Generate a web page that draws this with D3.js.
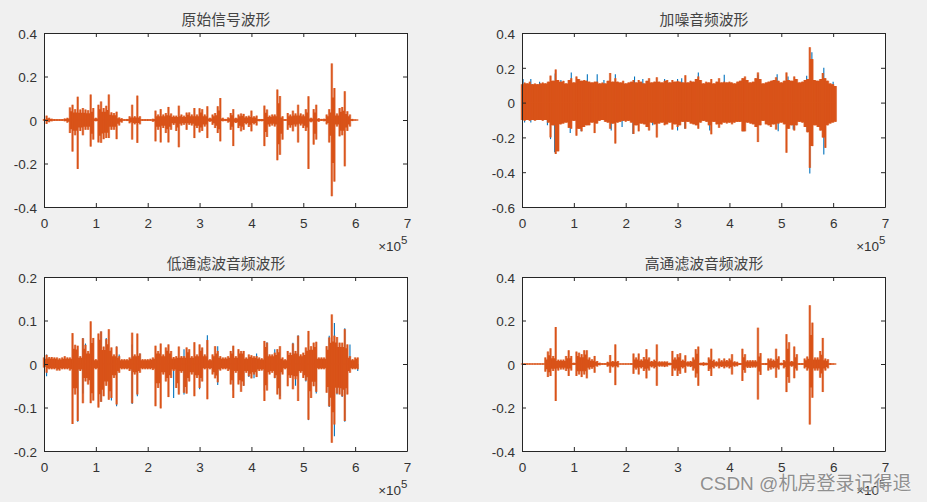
<!DOCTYPE html>
<html>
<head>
<meta charset="utf-8">
<script src="https://cdn.jsdelivr.net/npm/d3@7"></script>
<style>
  html, body { margin: 0; padding: 0; background: #f0f0f0; }
  svg { display: block; }
  .tick text { font: 13.5px "Liberation Sans", Arial, sans-serif; fill: #333; }
  .title { font: 14.8px "Noto Sans CJK SC", sans-serif; fill: #444; text-anchor: middle; }
  .expo { font: 13.5px "Liberation Sans", Arial, sans-serif; fill: #333; text-anchor: end; }
  .mark { font: 19px "Liberation Sans", "Noto Sans CJK SC", sans-serif; fill: #8f8f8f; paint-order: stroke; stroke: rgba(255,255,255,.35); stroke-width: 1.5px; }
</style>
</head>
<body>
<svg id="fig" width="927" height="502"></svg>
<script>
// envelope of each waveform, one value every 5000 samples
const sampleX = d3.range(122).map((i) => i * 5000);

const origTop = [.005,.02,.01,.006,.004,.003,.003,.003,.007,.01,.058,.07,.05,.107,.048,.055,.048,.045,.117,.055,.01,.07,.085,.055,.065,.117,.035,.032,.038,.012,.008,.003,.005,.017,.07,.017,.112,.017,.003,.003,.003,.003,.006,.043,.025,.05,.025,.032,.06,.03,.02,.02,.066,.025,.02,.034,.035,.025,.055,.025,.054,.05,.025,.063,.01,.025,.032,.063,.101,.01,.005,.012,.032,.05,.01,.025,.03,.028,.017,.02,.043,.017,.02,.005,.005,.066,.048,.02,.025,.025,.14,.11,.017,.003,.032,.025,.043,.03,.07,.03,.025,.05,.109,.01,.05,.07,.008,.005,.006,.025,.05,.26,.147,.03,.055,.06,.132,.04,.025,.005,.002,.001];
const origBot = [-.004,-.018,-.01,-.006,-.004,-.003,-.003,-.003,-.006,-.012,-.06,-.145,-.07,-.225,-.05,-.07,-.045,-.045,-.122,-.09,-.006,-.103,-.105,-.088,-.083,-.083,-.045,-.045,-.088,-.025,-.012,-.003,-.005,-.015,-.09,-.02,-.105,-.02,-.003,-.003,-.003,-.003,-.008,-.098,-.045,-.103,-.037,-.06,-.103,-.045,-.022,-.05,-.125,-.025,-.022,-.045,-.022,-.025,-.083,-.037,-.057,-.05,-.03,-.083,-.008,-.022,-.037,-.06,-.098,-.006,-.005,-.012,-.045,-.12,-.014,-.037,-.052,-.045,-.02,-.032,-.052,-.02,-.025,-.006,-.006,-.12,-.078,-.03,-.025,-.03,-.185,-.16,-.09,-.003,-.045,-.035,-.052,-.03,-.103,-.025,-.037,-.05,-.225,-.01,-.113,-.09,-.008,-.004,-.006,-.02,-.103,-.35,-.283,-.03,-.075,-.07,-.213,-.05,-.03,-.005,-.002,-.001];

const noisyTop = [.105,.115,.11,.12,.105,.11,.105,.11,.115,.11,.12,.155,.125,.19,.13,.12,.125,.11,.13,.14,.115,.15,.135,.125,.13,.125,.12,.115,.12,.12,.11,.115,.11,.125,.17,.12,.14,.12,.115,.125,.11,.115,.12,.13,.115,.13,.12,.11,.125,.14,.115,.12,.145,.12,.115,.125,.13,.115,.13,.12,.125,.12,.115,.157,.115,.125,.12,.135,.15,.13,.11,.12,.115,.135,.11,.12,.14,.115,.12,.115,.12,.115,.11,.12,.125,.14,.15,.13,.115,.12,.14,.173,.135,.11,.115,.12,.125,.13,.145,.125,.115,.125,.173,.13,.125,.15,.135,.115,.12,.13,.135,.318,.25,.13,.125,.135,.17,.14,.125,.11,.105,.095];
const noisyBot = [-.1,-.105,-.1,-.105,-.1,-.105,-.1,-.1,-.105,-.1,-.115,-.2,-.13,-.295,-.28,-.125,-.12,-.115,-.145,-.15,-.105,-.19,-.15,-.165,-.14,-.13,-.13,-.115,-.175,-.12,-.105,-.1,-.11,-.115,-.15,-.12,-.235,-.115,-.11,-.105,-.11,-.105,-.115,-.18,-.13,-.165,-.12,-.125,-.14,-.16,-.115,-.125,-.2,-.12,-.115,-.13,-.125,-.115,-.155,-.125,-.14,-.13,-.11,-.15,-.11,-.12,-.125,-.13,-.15,-.115,-.105,-.11,-.13,-.182,-.11,-.125,-.145,-.125,-.115,-.12,-.115,-.125,-.115,-.11,-.11,-.165,-.165,-.115,-.12,-.125,-.14,-.227,-.13,-.105,-.125,-.13,-.14,-.125,-.155,-.12,-.115,-.125,-.288,-.15,-.13,-.16,-.13,-.11,-.115,-.14,-.17,-.375,-.25,-.13,-.14,-.16,-.2,-.26,-.13,-.12,-.115,-.11];
// the blue trace only shows where it pokes out from under the orange one
const noisyBlueTopX = [2000,17000,34000,64000,75000,95000,126000,145000,158000,180000,217000,233000,275000,300000,308000,325000,340000,390000,423000,455000,492000,513000,549000,559000,582000,600000];
const noisyBlueTop = [.135,.135,.12,.167,.13,.173,.163,.163,.13,.163,.15,.135,.135,.135,.14,.125,.173,.16,.125,.16,.163,.15,.155,.29,.2,.12];
const noisyBlueBotX = [5000,17000,49000,55000,63000,93000,114000,172000,193000,214000,252000,300000,314000,362000,427000,494000,523000,550000,555000,582000];
const noisyBlueBot = [-.115,-.115,-.13,-.21,-.285,-.175,-.165,-.16,-.14,-.18,-.13,-.16,-.15,-.16,-.165,-.165,-.155,-.165,-.408,-.298];

const lowTop = [.015,.021,.016,.016,.015,.015,.013,.015,.018,.015,.015,.071,.044,.042,.018,.059,.044,.03,.098,.06,.011,.07,.075,.04,.057,.08,.038,.022,.04,.018,.011,.011,.011,.015,.072,.022,.07,.024,.011,.011,.011,.012,.015,.042,.03,.047,.022,.038,.045,.03,.016,.018,.04,.018,.018,.038,.034,.018,.05,.022,.045,.038,.022,.055,.011,.022,.041,.03,.018,.015,.015,.018,.03,.042,.018,.034,.03,.03,.015,.022,.02,.018,.018,.015,.013,.053,.049,.022,.022,.026,.034,.041,.015,.011,.03,.026,.047,.03,.065,.022,.026,.038,.076,.041,.049,.051,.015,.015,.015,.041,.061,.114,.065,.062,.049,.049,.08,.045,.018,.011,.015,.015];
const lowBot = [-.008,-.02,-.012,-.012,-.012,-.015,-.015,-.012,-.012,-.012,-.015,-.138,-.07,-.131,-.016,-.09,-.04,-.047,-.09,-.084,-.012,-.1,-.087,-.074,-.05,-.082,-.078,-.032,-.093,-.02,-.012,-.012,-.012,-.016,-.09,-.024,-.07,-.02,-.012,-.012,-.012,-.012,-.014,-.097,-.055,-.102,-.024,-.04,-.076,-.032,-.016,-.055,-.07,-.02,-.066,-.068,-.04,-.024,-.074,-.032,-.055,-.04,-.012,-.081,-.012,-.024,-.033,-.042,-.015,-.012,-.012,-.016,-.047,-.078,-.02,-.047,-.064,-.05,-.02,-.028,-.033,-.024,-.03,-.016,-.015,-.085,-.061,-.024,-.02,-.032,-.07,-.081,-.024,-.012,-.051,-.032,-.058,-.035,-.085,-.02,-.032,-.038,-.128,-.078,-.051,-.064,-.012,-.012,-.012,-.066,-.097,-.181,-.139,-.068,-.07,-.074,-.131,-.07,-.02,-.012,-.012,-.012];
const lowBlueTopX = [5000,75000,80000,110000,120000,140000,145000,170000,185000,240000,270000,305000,315000,335000,365000,410000,430000,445000,480000,490000,510000,550000,560000,580000,590000];
const lowBlueTop = [.022,.06,.047,.075,.06,.04,.022,.045,.024,.036,.034,.036,.066,.041,.041,.024,.05,.034,.049,.066,.068,.065,.094,.082,.045];
const lowBlueBotX = [5000,55000,65000,75000,90000,110000,130000,140000,170000,180000,250000,270000,300000,335000,365000,385000,395000,405000,425000,445000,455000,485000,505000,510000,525000,550000,560000,565000,575000,580000,605000];
const lowBlueBot = [-.028,-.07,-.133,-.068,-.045,-.087,-.084,-.097,-.092,-.074,-.078,-.07,-.058,-.048,-.061,-.05,-.03,-.033,-.061,-.033,-.074,-.05,-.04,-.129,-.068,-.099,-.166,-.07,-.076,-.133,-.016];

const highTop = [.002,.002,.002,.002,.002,.002,.002,.002,.002,.03,.057,.072,.037,.17,.02,.02,.02,.037,.063,.037,.006,.057,.052,.045,.063,.063,.03,.022,.037,.014,.006,.003,.003,.01,.041,.014,.09,.014,.002,.002,.002,.002,.003,.048,.03,.048,.021,.032,.068,.03,.014,.02,.09,.012,.012,.012,.012,.006,.06,.03,.045,.05,.02,.04,.012,.014,.03,.068,.08,.006,.008,.006,.03,.07,.02,.012,.025,.017,.025,.018,.025,.045,.012,.01,.005,.07,.045,.017,.017,.017,.017,.167,.05,.003,.005,.025,.025,.02,.07,.035,.006,.018,.137,.1,.014,.08,.045,.003,.003,.025,.034,.27,.19,.03,.03,.06,.12,.025,.022,.004,.002,.001];
const highBot = [-.002,-.002,-.002,-.002,-.002,-.002,-.002,-.002,-.002,-.035,-.06,-.055,-.032,-.17,-.03,-.025,-.025,-.032,-.055,-.03,-.005,-.055,-.048,-.06,-.048,-.066,-.025,-.022,-.04,-.012,-.006,-.003,-.003,-.012,-.04,-.015,-.097,-.015,-.002,-.002,-.002,-.002,-.003,-.045,-.025,-.048,-.02,-.032,-.066,-.03,-.015,-.02,-.1,-.012,-.012,-.014,-.012,-.006,-.055,-.03,-.055,-.045,-.02,-.04,-.012,-.014,-.03,-.062,-.1,-.006,-.008,-.006,-.032,-.055,-.02,-.012,-.02,-.014,-.02,-.015,-.02,-.048,-.012,-.01,-.005,-.078,-.04,-.018,-.018,-.016,-.016,-.163,-.05,-.003,-.005,-.03,-.025,-.02,-.063,-.025,-.006,-.02,-.129,-.086,-.012,-.065,-.03,-.003,-.003,-.02,-.03,-.278,-.155,-.03,-.03,-.063,-.129,-.03,-.02,-.004,-.002,-.001];

const xTicks = [0, 100000, 200000, 300000, 400000, 500000, 600000, 700000];
const xTickLabels = ['0', '1', '2', '3', '4', '5', '6', '7'];

const svg = d3.select('#fig');
const blue = '#0072BD';
const orange = '#D95319';

function drawPanel(opt) {
  const x = d3.scaleLinear().domain([0, 700000]).range([opt.left, opt.left + 363]);
  const y = d3.scaleLinear().domain(opt.yDomain).range([opt.bottom, opt.top]);
  const g = svg.append('g');

  g.append('rect')
    .attr('x', x.range()[0] + 0.5)
    .attr('y', opt.top + 0.5)
    .attr('width', 363)
    .attr('height', opt.bottom - opt.top)
    .attr('fill', '#fff');

  // blue spikes go under everything else
  (opt.blueTopX || []).forEach((v, i) => {
    g.append('line').attr('stroke', blue).attr('stroke-width', 1.1)
      .attr('x1', x(v)).attr('x2', x(v)).attr('y1', y(0)).attr('y2', y(opt.blueTop[i]));
  });
  (opt.blueBotX || []).forEach((v, i) => {
    g.append('line').attr('stroke', blue).attr('stroke-width', 1.1)
      .attr('x1', x(v)).attr('x2', x(v)).attr('y1', y(0)).attr('y2', y(opt.blueBot[i]));
  });

  // solid body: each step only part of the lower of its two neighbours
  const body = sampleX.map((v, i) => {
    const j = Math.min(i + 1, sampleX.length - 1);
    return {
      x: v,
      hi: opt.solid * Math.min(opt.hi[i], opt.hi[j]),
      lo: opt.solid * Math.max(opt.lo[i], opt.lo[j]),
    };
  });
  const area = d3.area()
    .curve(d3.curveStepAfter)
    .x((d) => x(d.x))
    .y0((d) => y(d.lo))
    .y1((d) => y(d.hi));
  g.append('path').attr('d', area(body)).attr('fill', orange);

  // peaks as thin strokes with a paler fringe
  [[2.6, 0.55], [1.4, 1]].forEach(([w, op]) => {
    g.append('g')
      .selectAll('line')
      .data(sampleX)
      .enter()
      .append('line')
      .attr('stroke', orange)
      .attr('stroke-width', w)
      .attr('stroke-opacity', op)
      .attr('x1', (d) => x(d))
      .attr('x2', (d) => x(d))
      .attr('y1', (d, i) => y(opt.lo[i]))
      .attr('y2', (d, i) => y(opt.hi[i]));
  });

  g.append('line')
    .attr('stroke', orange)
    .attr('x1', x(0))
    .attr('x2', x(sampleX[sampleX.length - 1]))
    .attr('y1', y(0))
    .attr('y2', y(0));

  const xAxis = (a) => a.tickValues(xTicks).tickSizeInner(-4).tickSizeOuter(0);
  const yAxis = (a) => a.tickValues(opt.yTicks).tickSizeInner(-4).tickSizeOuter(0);

  g.append('g')
    .attr('transform', `translate(0,${opt.bottom})`)
    .call(xAxis(d3.axisBottom(x)).tickPadding(11).tickFormat((d, i) => xTickLabels[i]));
  g.append('g')
    .attr('transform', `translate(0,${opt.top})`)
    .call(xAxis(d3.axisTop(x)).tickFormat(''));
  g.append('g')
    .attr('transform', `translate(${opt.left},0)`)
    .call(yAxis(d3.axisLeft(y)).tickPadding(7).tickFormat(String))
    .selectAll('.tick text')
    .attr('y', 1);
  g.append('g')
    .attr('transform', `translate(${opt.left + 363},0)`)
    .call(yAxis(d3.axisRight(y)).tickFormat(''));
  g.selectAll('.domain, .tick line').attr('stroke', '#262626');

  g.append('text')
    .attr('class', 'title')
    .attr('x', opt.left + 182)
    .attr('y', opt.top - 8)
    .text(opt.title);

  const expo = g.append('text')
    .attr('class', 'expo')
    .attr('x', opt.left + 363.5)
    .attr('y', opt.bottom + 44);
  expo.append('tspan').text('×10');
  expo.append('tspan').attr('dy', -7).attr('font-size', 11.5).text('5');
}

drawPanel({
  title: '原始信号波形', left: 44, top: 33, bottom: 207,
  yDomain: [-0.4, 0.4], yTicks: [-0.4, -0.2, 0, 0.2, 0.4],
  hi: origTop, lo: origBot, solid: 0.7,
});
drawPanel({
  title: '加噪音频波形', left: 522, top: 33, bottom: 207,
  yDomain: [-0.6, 0.4], yTicks: [-0.6, -0.4, -0.2, 0, 0.2, 0.4],
  hi: noisyTop, lo: noisyBot, solid: 1,
  blueTopX: noisyBlueTopX, blueTop: noisyBlueTop, blueBotX: noisyBlueBotX, blueBot: noisyBlueBot,
});
drawPanel({
  title: '低通滤波音频波形', left: 44, top: 277, bottom: 451,
  yDomain: [-0.2, 0.2], yTicks: [-0.2, -0.1, 0, 0.1, 0.2],
  hi: lowTop, lo: lowBot, solid: 0.8,
  blueTopX: lowBlueTopX, blueTop: lowBlueTop, blueBotX: lowBlueBotX, blueBot: lowBlueBot,
});
drawPanel({
  title: '高通滤波音频波形', left: 522, top: 277, bottom: 451,
  yDomain: [-0.4, 0.4], yTicks: [-0.4, -0.2, 0, 0.2, 0.4],
  hi: highTop, lo: highBot, solid: 0.7,
});

svg.append('text')
  .attr('class', 'mark')
  .attr('x', 700)
  .attr('y', 490)
  .text('CSDN @机房登录记得退');
</script>
</body>
</html>
